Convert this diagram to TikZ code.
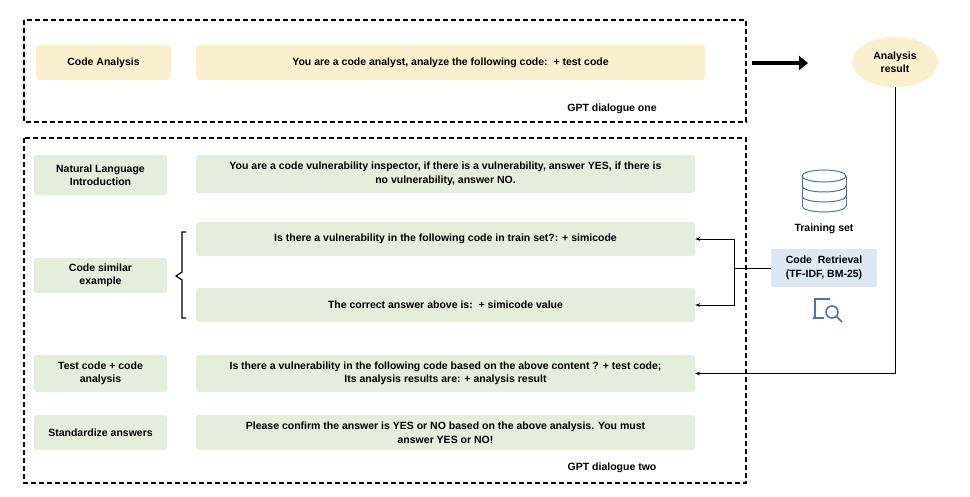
\documentclass[tikz,border=0pt]{standalone}
\usepackage{fontspec}
\setmainfont{Liberation Sans}
\usetikzlibrary{arrows.meta,shapes.geometric}
\definecolor{ylw}{HTML}{FBF0CD}
\definecolor{grn}{HTML}{E3EEDB}
\definecolor{blu}{HTML}{DCE9F5}
\definecolor{icon}{HTML}{4A6FC4}
\begin{document}
\begin{tikzpicture}[x=1pt,y=-1pt,font=\bfseries\fontsize{10.5}{13.5}\selectfont,
 dbox/.style={draw,line width=1.3pt,dash pattern=on 5pt off 3pt},
 ybox/.style={fill=ylw,rounded corners=3pt,align=center},
 gbox/.style={fill=grn,rounded corners=3pt,align=center},
 conn/.style={line width=0.9pt,-{Stealth[length=5pt]}}]
\useasboundingbox (0,0) rectangle (970,496);
\draw[dbox] (24,20) rectangle (746,122);
\draw[dbox] (24,138) rectangle (746,483);
\node[ybox,minimum width=135,minimum height=35] (ca) at (103.5,62.5) {Code Analysis};
\node[ybox,minimum width=509,minimum height=35] (cat) at (450.5,62.5) {You are a code analyst, analyze the following code:\ \ + test code};
\node (d1) at (612,109) {GPT dialogue one};
\node (d2) at (612,468) {GPT dialogue two};
\draw[line width=4pt,-{Triangle[length=9pt,width=14pt]}] (752,63) -- (808,63);
\node[ellipse,fill=ylw,minimum width=86,minimum height=50,align=center,inner sep=0pt] (ar) at (895,62) {Analysis\\result};
\node[gbox,minimum width=133,minimum height=40] (l1) at (100.5,175) {Natural Language\\Introduction};
\node[gbox,minimum width=133,minimum height=35] (l2) at (100.5,275.5) {Code similar\\example};
\node[gbox,minimum width=133,minimum height=37] (l3) at (100.5,373.5) {Test code + code\\analysis};
\node[gbox,minimum width=133,minimum height=35] (l4) at (100.5,432.5) {Standardize answers};
\node[gbox,minimum width=499,minimum height=38] (r1) at (445.5,174) {You are a code vulnerability inspector, if there is a vulnerability, answer YES, if there is\\no vulnerability, answer NO.};
\node[gbox,minimum width=499,minimum height=34] (r2) at (445.5,239) {Is there a vulnerability in the following code in train set?: + simicode};
\node[gbox,minimum width=499,minimum height=34] (r3) at (445.5,305) {The correct answer above is:\ \ + simicode value};
\node[gbox,minimum width=499,minimum height=37] (r4) at (445.5,373.5) {Is there a vulnerability in the following code based on the above content ? + test code;\\Its analysis results are: + analysis result};
\node[gbox,minimum width=499,minimum height=35] (r5) at (445.5,432.5) {Please confirm the answer is YES or NO based on the above analysis. You must\\answer YES or NO!};
\draw[line width=1.2pt] (186,232) -- (182,232) -- (182,272) -- (176,276) -- (182,280) -- (182,318) -- (186,318);
\begin{scope}[icon,line width=1pt]
\draw (802,176) -- (802,206) (846,176) -- (846,206);
\draw (824,176) ellipse (22 and 6);
\draw (802,186) arc[start angle=180,end angle=0,x radius=22,y radius=6];
\draw (802,196) arc[start angle=180,end angle=0,x radius=22,y radius=6];
\draw (802,206) arc[start angle=180,end angle=0,x radius=22,y radius=6];
\end{scope}
\node (ts) at (824,229) {Training set};
\node[fill=blu,minimum width=106,minimum height=38,align=center] (cr) at (824,268) {Code\ \ Retrieval\\(TF-IDF, BM-25)};
\begin{scope}[icon,line width=1.6pt]
\draw (830,299) -- (815,299) -- (815,317);
\draw (813,318) -- (824,318);
\draw (832,312) circle (6);
\draw (836.5,316.5) -- (842,322);
\end{scope}
\coordinate (j) at (734,268);
\draw[line width=0.9pt] (cr.west) -- (j);
\draw[conn] (j) |- (r2.east);
\draw[conn] (j) |- (r3.east);
\draw[conn] (ar.south) |- (r4.east);
\end{tikzpicture}
\end{document}
